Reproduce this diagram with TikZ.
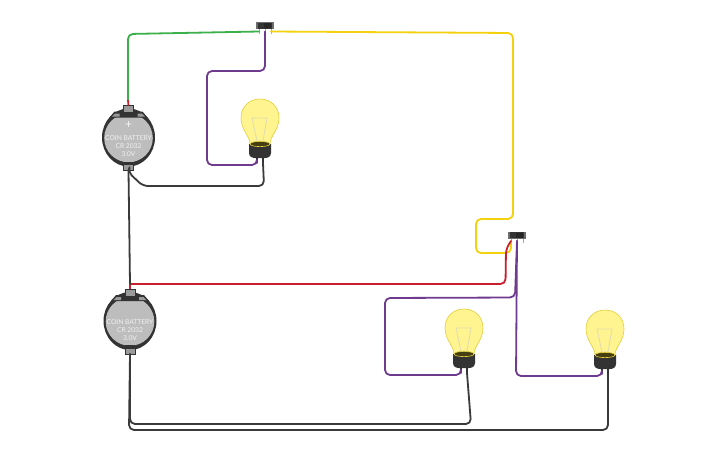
\documentclass[tikz,border=0pt]{standalone}
\usepackage{fontspec}
\setmainfont{Lato}
\definecolor{wgreen}{HTML}{3CB04A}
\definecolor{wyellow}{HTML}{F4D10F}
\definecolor{wpurple}{HTML}{6F3B8F}
\definecolor{wred}{HTML}{C8202F}
\definecolor{wblack}{HTML}{3A3A3A}
\definecolor{dark}{HTML}{333333}
\definecolor{cellg}{HTML}{BDBDBD}
\definecolor{tabg}{HTML}{9A9A9A}
\definecolor{glass}{HTML}{FFF48F}
\definecolor{glassedge}{HTML}{E2CF3A}
\definecolor{fil}{HTML}{E0DCB0}
\tikzset{
  x=1pt,y=-1pt,
  wire/.style={line width=1.8pt,rounded corners=5pt,line cap=round,line join=round},
  lead/.style={line width=1.6pt,dark},
  pics/bulb/.style={code={
    \path[fill=glass,draw=glassedge,line width=.6pt]
      (-10,23) .. controls (-10,15) and (-19,9) .. (-19,-3)
      .. controls (-19,-15) and (-10,-22) .. (0,-22)
      .. controls (10,-22) and (19,-15) .. (19,-3)
      .. controls (19,9) and (10,15) .. (10,23) -- cycle;
    \draw[fil,line width=.8pt] (-8,-3) -- (7,-3) -- (3,20) -- (-3,20) -- cycle;
    \fill[dark] (-11,23) -- (11,23) -- (11,32) .. controls (11,36) and (7,37) .. (5,37)
      -- (-5,37) .. controls (-7,37) and (-11,36) .. (-11,32) -- cycle;
    \draw[lead] (-3,36) -- (-3,42);
    \draw[lead] (3,36) -- (3,42);
    \path[fill=black!70!glassedge,draw=glassedge,line width=.6pt] (0,23) ellipse [x radius=10,y radius=2.6];
    \coordinate (-a) at (-3,42);
    \coordinate (-b) at (3,42);
  }},
  pics/cell/.style={code={
    \fill[dark] (0,0) ellipse [x radius=26.5,y radius=29];
    \fill[cellg] (0,0.5) circle [radius=24.3];
    \fill[dark] (-19,-20) -- (19,-20) -- (14,-26) -- (-14,-26) -- cycle;
    \fill[tabg] (-16.5,-21) -- (-9,-21) -- (-9,-24) -- (-13.5,-24) -- cycle;
    \fill[tabg] (16.5,-21) -- (9,-21) -- (9,-24) -- (13.5,-24) -- cycle;
    \fill[tabg,draw=dark,line width=.8pt] (-5,-32) rectangle (5,-25);
    \fill[dark] (-5,24) -- (5,24) -- (5,29) -- (-5,29) -- cycle;
    \fill[tabg,draw=dark,line width=.6pt] (-5,27) rectangle (5,33);
    \coordinate (-top) at (0,-32);
    \coordinate (-bot) at (0,33);
  }},
  celltext/.style={text=white!78!cellg,font=\fontsize{6.7}{8.2}\selectfont,align=center,inner sep=0pt},
  pics/switchpart/.style={code={
    \draw[line width=.9pt,gray!70] (-6,3) -- (-6,8) (0,3) -- (0,8) (6,3) -- (6,8);
    \fill[gray!85!black] (-9,-3.5) rectangle (9,3.5);
    \fill[dark] (-7,-3) rectangle (7,3);
    \fill[black!85] (-1,-2.5) rectangle (6,2.5);
    \coordinate (-a) at (-6,6);
    \coordinate (-b) at (0,6);
    \coordinate (-c) at (6,6);
  }}
}
\begin{document}
\begin{tikzpicture}
\useasboundingbox[fill=white] (0,0) rectangle (725,453);
% parts
\pic (B1) at (128.5,137.5) {cell};
\pic (B2) at (130,321) {cell};
\pic (L1) at (260,121) {bulb};
\pic (L2) at (464,331) {bulb};
\pic (L3) at (605,332) {bulb};
\pic (S1) at (265,25.5) {switchpart};
\pic (S2) at (517,235) {switchpart};
\node[celltext] (T1) at (128.5,146) {COIN BATTERY\\CR 2032\\3.0V};
\node[celltext] (T2) at (130,330) {COIN BATTERY\\CR 2032\\3.0V};
\node[text=white!85!cellg,font=\fontsize{12}{12}\selectfont,inner sep=0pt] (P1) at (128.5,125) {+};
\coordinate (Y1) at (128,100);
\coordinate (J1) at (130,284);
% wires
\draw[wire,wgreen] (S1-a) -- (128,34) -- (Y1);
\draw[wire,wyellow] (S1-c) -- (513,33) -- (513,219) -- (476,219) -- (476,253) -- (511,253) -- (S2-a);
\draw[wire,wred] (J1) -- (505.5,284) -- (506,249) -- (S2-a);
\draw[wire,wpurple] (S1-b) -- (265,71) -- (207,71) -- (207,165) -- (257,165) -- (L1-a);
\draw[wire,wpurple] (S2-b) -- (515,297.5) -- (385,298) -- (385,375) -- (461,375) -- (L2-a);
\draw[wire,wpurple] (S2-b) -- (516,376) -- (602,376) -- (L3-a);
\draw[line width=1.8pt,wred] (Y1) -- (B1-top);
\draw[line width=1.8pt,wred] (J1) -- (B2-top);
\draw[wire,wblack] (B1-bot) -- (128,172) -- (143,186) -- (264,186) -- (L1-b);
\draw[wire,wblack] (B1-bot) -- (J1);
\draw[wire,wblack] (B2-bot) -- (130,424) -- (471,424) -- (L2-b);
\draw[wire,wblack] (B2-bot) -- (129,430) -- (608,430) -- (L3-b);
\end{tikzpicture}
\end{document}
